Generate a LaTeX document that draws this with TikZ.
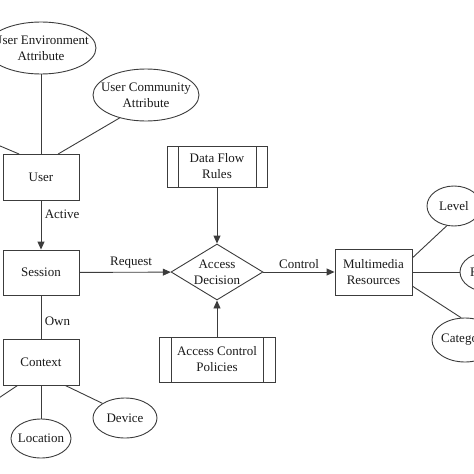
\documentclass[tikz,border=0pt]{standalone}
\usepackage{fontspec}
\setmainfont{Liberation Serif}
\usetikzlibrary{arrows.meta,shapes.geometric,positioning}
\definecolor{lineGray}{RGB}{60,60,60}
\definecolor{textGray}{RGB}{25,25,25}

\begin{document}
\begin{tikzpicture}[x=1pt, y=-1pt, >={Triangle[length=8pt,width=7pt]},
    every node/.style={font=\fontsize{13}{16}\selectfont, text=textGray},
    box/.style={draw=lineGray, line width=0.9pt, rectangle, inner sep=0pt,
      align=center, minimum width=76pt, minimum height=46pt},
    proc/.style={box, path picture={
      \draw[lineGray, line width=0.9pt]
        ([xshift=#1]path picture bounding box.north west) --
        ([xshift=#1]path picture bounding box.south west)
        ([xshift=-#1]path picture bounding box.north east) --
        ([xshift=-#1]path picture bounding box.south east);}},
    attr/.style={draw=lineGray, line width=0.9pt, ellipse, inner sep=0pt},
    decide/.style={draw=lineGray, line width=0.9pt, diamond, aspect=1.64,
      inner sep=0pt, align=center, minimum width=92pt, minimum height=56pt},
    link/.style={lineGray, line width=0.9pt},
    lbl/.style={align=center}]
    \useasboundingbox (0,0) rectangle (474,474);
    \clip (0,0) rectangle (474,474);
    % --- user side: attributes, user, session, context ---
    \node[attr, minimum width=110pt, minimum height=52pt,
          label={[lbl]center:{User Environment\\Attribute}}] (uenv) at (41,48) {};
    \node[attr, minimum width=106pt, minimum height=52pt,
          label={[lbl]center:{User Community\\Attribute}}] (ucomm) at (146,95) {};
    \node[box] (user) at (41,177.5) {User};
    \node[box, minimum height=45pt] (session) at (41,272.5) {Session};
    \node[box] (context) at (41,362) {Context};
    \node[attr, minimum width=60pt, minimum height=39pt,
          label=center:Location] (loc) at (41,438.5) {};
    \node[attr, minimum width=64pt, minimum height=40pt,
          label=center:Device] (dev) at (125,418) {};
    \coordinate (uleft) at (-40,129);
    \coordinate (cleft) at (-40,424);
    % --- decision and its rules ---
    \node[decide] (access) at (217,272) {Access\\Decision};
    \node[proc=11pt, minimum width=100pt, minimum height=41pt] (flow)
      at (217,166.5) {Data Flow\\Rules};
    \node[proc=12pt, minimum width=116pt, minimum height=45pt] (policy)
      at (217,359.5) {Access Control\\Policies};
    % --- resource side ---
    \node[box, minimum width=77pt] (media) at (373.5,272) {Multimedia\\Resources};
    \node[attr, minimum width=54pt, minimum height=40pt,
          label=center:Level] (level) at (454,206) {};
    \node[attr, minimum width=58pt, minimum height=40pt,
          label=center:Format] (format) at (489,272) {};
    \node[attr, minimum width=66pt, minimum height=44pt,
          label=center:Category] (categ) at (465,340) {};
    % --- connectors ---
    \draw[link] (uenv) -- (user);
    \draw[link] (ucomm.221) -- (user.54);
    \draw[link] (user.133) -- (uleft);
    \draw[link, ->] (user) -- node[right, pos=0.27] {Active} (session);
    \draw[link] (session) -- node[right, pos=0.6] {Own} (context);
    \draw[link] (context) -- (loc);
    \draw[link] (context.316) -- (dev.147);
    \draw[link] (context.225) -- (cleft);
    \draw[link, ->] (session) -- node[above, pos=0.565] {Request} (access);
    \draw[link, ->] (flow) -- (access);
    \draw[link, ->] (policy) -- (access);
    \draw[link, ->] (access) -- node[above] {Control} (media);
    \draw[link] (media.20) -- (level.250);
    \draw[link] (media) -- (format);
    \draw[link] (media.-20) -- (categ.100);
\end{tikzpicture}
\end{document}
